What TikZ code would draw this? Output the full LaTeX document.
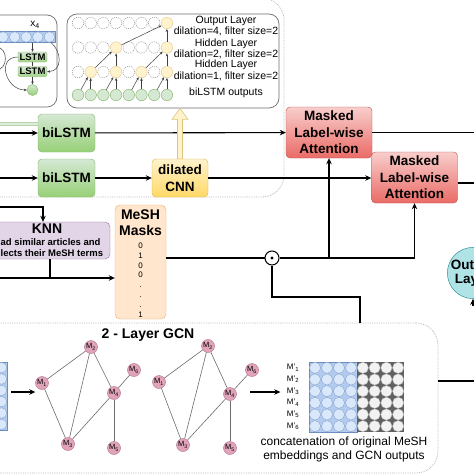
\documentclass[tikz,border=0pt]{standalone}
\usepackage{fontspec}
\setmainfont{Liberation Sans}
\usetikzlibrary{arrows.meta,calc}

\definecolor{lstmtop}{HTML}{D5E8D4}
\definecolor{lstmbot}{HTML}{97D077}
\definecolor{lstmline}{HTML}{82B366}
\definecolor{atttop}{HTML}{F8CECC}
\definecolor{attbot}{HTML}{EA6B66}
\definecolor{attline}{HTML}{B85450}
\definecolor{cnntop}{HTML}{FFF2CC}
\definecolor{cnnbot}{HTML}{FFD966}
\definecolor{cnnline}{HTML}{D6B656}
\definecolor{maskfill}{HTML}{FFE6CC}
\definecolor{maskline}{HTML}{E2B274}
\definecolor{knnfill}{HTML}{E1D5E7}
\definecolor{knnline}{HTML}{9673A6}
\definecolor{outfill}{HTML}{B0E3E6}
\definecolor{outdraw}{HTML}{0E8088}
\definecolor{embfill}{HTML}{DAE8FC}
\definecolor{embback}{HTML}{B3CBEE}
\definecolor{embline}{HTML}{6C8EBF}
\definecolor{meshfill}{HTML}{E0A3BA}
\definecolor{meshline}{HTML}{B06E88}
\definecolor{frameline}{HTML}{6E6E6E}

\begin{document}
\begin{tikzpicture}[x=1pt, y=-1pt,
  conn/.style={line width=1.1pt, -{Stealth[length=6pt,width=5.5pt]}},
  wire/.style={line width=1.1pt},
  fine/.style={line width=0.5pt, draw=black!75, -{Stealth[length=3pt,width=2.6pt]}},
  edge/.style={line width=0.6pt, draw=gray!85!black},
  blockbox/.style={rounded corners=4pt, align=center, inner sep=1pt,
    font=\fontsize{13.5}{16.5}\selectfont\bfseries},
  lstmbox/.style={blockbox, draw=lstmline, top color=lstmtop, bottom color=lstmbot,
    minimum width=57pt, minimum height=38pt},
  attbox/.style={blockbox, draw=attline, top color=atttop, bottom color=attbot,
    minimum width=86pt, minimum height=51pt},
  cnnbox/.style={blockbox, draw=cnnline, top color=cnntop, bottom color=cnnbot,
    minimum width=56pt, minimum height=38pt},
  cellbox/.style={rounded corners=2pt, draw=lstmline, top color=lstmtop, bottom color=lstmbot!80!lstmtop,
    minimum width=29pt, minimum height=10pt, inner sep=0pt,
    font=\fontsize{9.5}{10}\selectfont\bfseries},
  frame/.style={draw=frameline, rounded corners=10pt, line width=0.7pt},
  region/.style={draw=gray!55, densely dotted, line width=0.8pt, rounded corners=22pt},
  meshnode/.style={circle, draw=meshline, fill=meshfill, minimum size=13pt, inner sep=0pt,
    font=\fontsize{7.5}{7.5}\selectfont},
  ghost/.style={circle, draw=gray!85, dash pattern=on 1pt off 1pt, line width=0.5pt,
    minimum size=11.5pt, inner sep=0pt},
  hid/.style={circle, draw=cnnline!70, fill=cnntop, minimum size=11.5pt, inner sep=0pt},
  inp/.style={circle, draw=lstmline, fill=lstmtop, minimum size=11.5pt, inner sep=0pt},
  note/.style={font=\fontsize{10.5}{11.5}\selectfont, align=center},
  knntext/.style={font=\fontsize{9.5}{11}\selectfont\bfseries, anchor=west, inner sep=0pt},
]

% canvas
\useasboundingbox (0,0) rectangle (474,474);
\fill[white] (0,0) rectangle (474,474);
\clip (0,0) rectangle (474,474);

% ============================================================
% ENCODER REGION (top)
% ============================================================
\node[region, minimum width=304pt, minimum height=199pt] (encregion) at (132,97.5) {};

% --- LSTM detail (top-left) ---
\node[frame, minimum width=72pt, minimum height=92pt] (lstmframe) at (21,61) {};
\node[font=\fontsize{10}{10}\selectfont] (xfour) at (35,25) {x\textsubscript{4}};
\draw[embline, fill=embback] (-8,31.5) rectangle (55,42.5);
\foreach \i in {0,...,4}
  \draw[embline!80, fill=embfill] ({3+11.6*\i},37) circle[radius=5.3pt];
\coordinate (rowin) at (32.5,42.5);
\coordinate (rowout) at (51,42.5);
\node[cellbox] (lstm1) at (32.5,57) {LSTM};
\node[cellbox] (lstm2) at (32.5,71.5) {LSTM};
\node[circle, draw=lstmline, top color=lstmtop, bottom color=lstmbot, minimum size=11pt,
  inner sep=0pt] (lstmout) at (32.5,90) {};
\draw[fine] (rowin) -- (lstm1);
\draw[line width=0.5pt, black!75] (lstm1) -- (lstm2);
\draw[fine] (lstm2) -- (lstmout);
\draw[fine] (lstm1.west) to[out=180, in=180, looseness=1.6] (lstmout.west);
\draw[fine] (rowout) to[out=-40, in=0, looseness=1.3] (lstm2.east);
\draw[line width=0.5pt, black!75] (-4,47) to[out=0, in=0, looseness=1.4] (-4,70);

% --- dilated CNN detail (top-middle) ---
\node[frame, minimum width=212pt, minimum height=94pt] (cnnframe) at (173,61) {};
\foreach \i in {0,...,7} {
  \node[inp] (c0\i) at ({78+12.7*\i},95) {};
}
\foreach \i/\s in {0/ghost,1/hid,2/ghost,3/hid,4/ghost,5/hid,6/ghost,7/hid}
  \node[\s] (c1\i) at ({78+12.7*\i},72) {};
\foreach \i/\s in {0/ghost,1/ghost,2/ghost,3/hid,4/ghost,5/ghost,6/ghost,7/hid}
  \node[\s] (c2\i) at ({78+12.7*\i},47.5) {};
\foreach \i/\s in {0/ghost,1/ghost,2/ghost,3/ghost,4/ghost,5/ghost,6/ghost,7/hid}
  \node[\s] (c3\i) at ({78+12.7*\i},23) {};
\foreach \a/\b in {0/1,1/1,2/3,3/3,4/5,5/5,6/7,7/7}
  \draw[fine] (c0\a) -- (c1\b);
\foreach \a/\b in {1/3,3/3,5/7,7/7}
  \draw[fine] (c1\a) -- (c2\b);
\foreach \a/\b in {3/7,7/7}
  \draw[fine] (c2\a) -- (c3\b);
\node[note] (lyr3) at (226,26) {Output Layer\\dilation=4, filter size=2};
\node[note] (lyr2) at (226,49) {Hidden Layer\\dilation=2, filter size=2};
\node[note] (lyr1) at (226,70.5) {Hidden Layer\\dilation=1, filter size=2};
\node[note] (lyr0) at (226,92.5) {biLSTM outputs};

% --- main encoder blocks ---
\node[lstmbox] (bilstm1) at (66.5,133) {biLSTM};
\node[lstmbox] (bilstm2) at (66.5,178) {biLSTM};
\node[cnnbox] (cnn) at (180,178) {dilated\\CNN};
\node[attbox] (att1) at (329,132.5) {Masked\\Label-wise\\Attention};
\node[attbox] (att2) at (414.5,177.5) {Masked\\Label-wise\\Attention};

\coordinate (bandin) at (-5,124);
\coordinate (in1) at (-5,133);
\coordinate (in2) at (-5,178);
\coordinate (out1) at (480,133);
\coordinate (out2) at (480,183);

\draw[draw=lstmline!55, double=lstmtop!80, line width=0.7pt, double distance=2.6pt]
  (bandin) -- (bandin -| bilstm1.west);
\draw[conn] (in1) -- (bilstm1);
\draw[conn] (in2) -- (bilstm2);
\draw[conn] (bilstm1) -- (att1);
\draw[conn] (bilstm2) -- (cnn);
\draw[conn] (cnn) -- (cnn -| att2.west);
\draw[wire] (att1) -- (att1 -| out1);
\draw[wire] (out2 -| att2.east) -- (out2);

% hollow arrow from CNN up to its detail
\filldraw[fill=cnntop, draw=cnnline!80, line width=0.6pt]
  ($(cnn.north)+(-2.5,0)$) -- ($(cnnframe.south -| cnn.north)+(-2.5,11)$)
  -- ($(cnnframe.south -| cnn.north)+(-8,11)$) -- (cnnframe.south -| cnn.north)
  -- ($(cnnframe.south -| cnn.north)+(8,11)$) -- ($(cnnframe.south -| cnn.north)+(2.5,11)$)
  -- ($(cnn.north)+(2.5,0)$) -- cycle;

% ============================================================
% KNN AND MESH MASKS (middle)
% ============================================================
\node[rounded corners=5pt, draw=knnline, fill=knnfill, minimum width=134pt,
  minimum height=37pt] (knn) at (43,240.5) {};
\node[font=\fontsize{14}{14}\selectfont\bfseries] (knntitle) at (47,228.5) {KNN};
\node[knntext] (knnline1) at (0.5,242) {ad similar articles and};
\node[knntext] (knnline2) at (0.5,253) {lects their MeSH terms};

\node[rounded corners=5pt, draw=maskline, fill=maskfill, minimum width=51pt,
  minimum height=114pt] (mask) at (140.5,262) {};
\node[font=\fontsize{14}{16}\selectfont\bfseries, align=center] (masktitle) at (140.5,223) {MeSH\\Masks};
\node[font=\fontsize{8}{9.8}\selectfont, align=center] (maskbits) at (140.5,280)
  {0\\1\\0\\0\\.\\.\\.\\1};

\node[circle, draw, line width=1pt, minimum size=14pt, inner sep=0pt] (odot) at (272,258) {};
\fill (odot.center) circle[radius=1.7pt];

\coordinate (knnin) at (-5,207);
\coordinate (maskin) at (-5,278);
\draw[conn] (knnin) -| (knn.north);
\draw[wire] ([xshift=7pt]knn.south) -- ([xshift=7pt]knn.south |- maskin);
\draw[conn] (maskin) -- (maskin -| mask.west);
\draw[wire] (odot -| mask.east) -- (odot);
\draw[conn] (odot) -| (att2.south);
\draw[conn] (att1.south |- odot) -- (att1.south);

% output layer (cut at the right edge)
\node[circle, draw=outdraw, fill=outfill, minimum size=50pt, inner sep=0pt, align=center,
  font=\fontsize{13.5}{14}\selectfont\bfseries] (outl) at (473,273) {Output\\Layer};
\coordinate (outin) at (480,305);
\draw[conn] (outin) -| (outl.south);

% ============================================================
% 2-LAYER GCN (bottom)
% ============================================================
\node[region, minimum width=458pt, minimum height=150pt] (gcnregion) at (209,398) {};
\node[font=\fontsize{14}{14}\selectfont\bfseries] (gcntitle) at (148,335) {2 - Layer GCN};

\coordinate (gcnturn) at (360,297);
\coordinate (gcnout) at (480,381);
\draw[wire] (gcnregion.north -| gcnturn) -- (gcnturn) -| (odot);
\draw[wire] (gcnout -| gcnregion.east) -- (gcnout);

% input MeSH embeddings (cut at the left edge)
\draw[embline, fill=embback] (-8,362) rectangle (7,430);
\foreach \r in {0,...,5}
  \draw[embline!80, fill=embfill] (1.5,{362+11.33*\r+5.67}) circle[radius=5.3pt];

% graph layers
\foreach \n/\x/\y in {1/42/383, 2/91/347, 3/68/444, 4/114/393, 5/114/448, 6/134/370}
  \node[meshnode] (a\n) at (\x,\y) {M\textsubscript{\n}};
\foreach \n/\x/\y in {1/159/382, 2/208/346, 3/183/445, 4/230/394, 5/230/448, 6/252/370}
  \node[meshnode] (b\n) at (\x,\y) {M\textsubscript{\n}};
\foreach \g in {a,b}
  \foreach \s/\t in {1/2,1/3,2/3,2/4,4/6,4/3,4/5}
    \draw[edge] (\g\s) -- (\g\t);

\coordinate (g1in) at (11,392);
\coordinate (g2in) at (250,392);
\draw[conn] (g1in) -- (g1in -| a1.west);

% concatenated embeddings
\node[align=center, font=\fontsize{8}{11.67}\selectfont] (mprime) at (293,397)
  {M'\textsubscript{1}\\M'\textsubscript{2}\\M'\textsubscript{3}\\M'\textsubscript{4}\\M'\textsubscript{5}\\M'\textsubscript{6}};
\draw[conn] (g2in) -- ([xshift=-3pt]g2in -| mprime.west);

\draw[embline, fill=embback] (309,362) rectangle (357,432);
\fill[gray!75!black] (357,362) rectangle (404,432);
\foreach \r in {0,...,5}
  \foreach \c in {0,...,3} {
    \draw[embline!80, fill=embfill] ({315+12*\c},{367.8+11.67*\r}) circle[radius=5.6pt];
    \draw[gray!60, fill=gray!10] ({362.9+11.75*\c},{367.8+11.67*\r}) circle[radius=5.6pt];
  }
\node[align=center, font=\fontsize{12}{14}\selectfont] (concat) at (344,449)
  {concatenation of original MeSH\\embeddings and GCN outputs};

\end{tikzpicture}
\end{document}
